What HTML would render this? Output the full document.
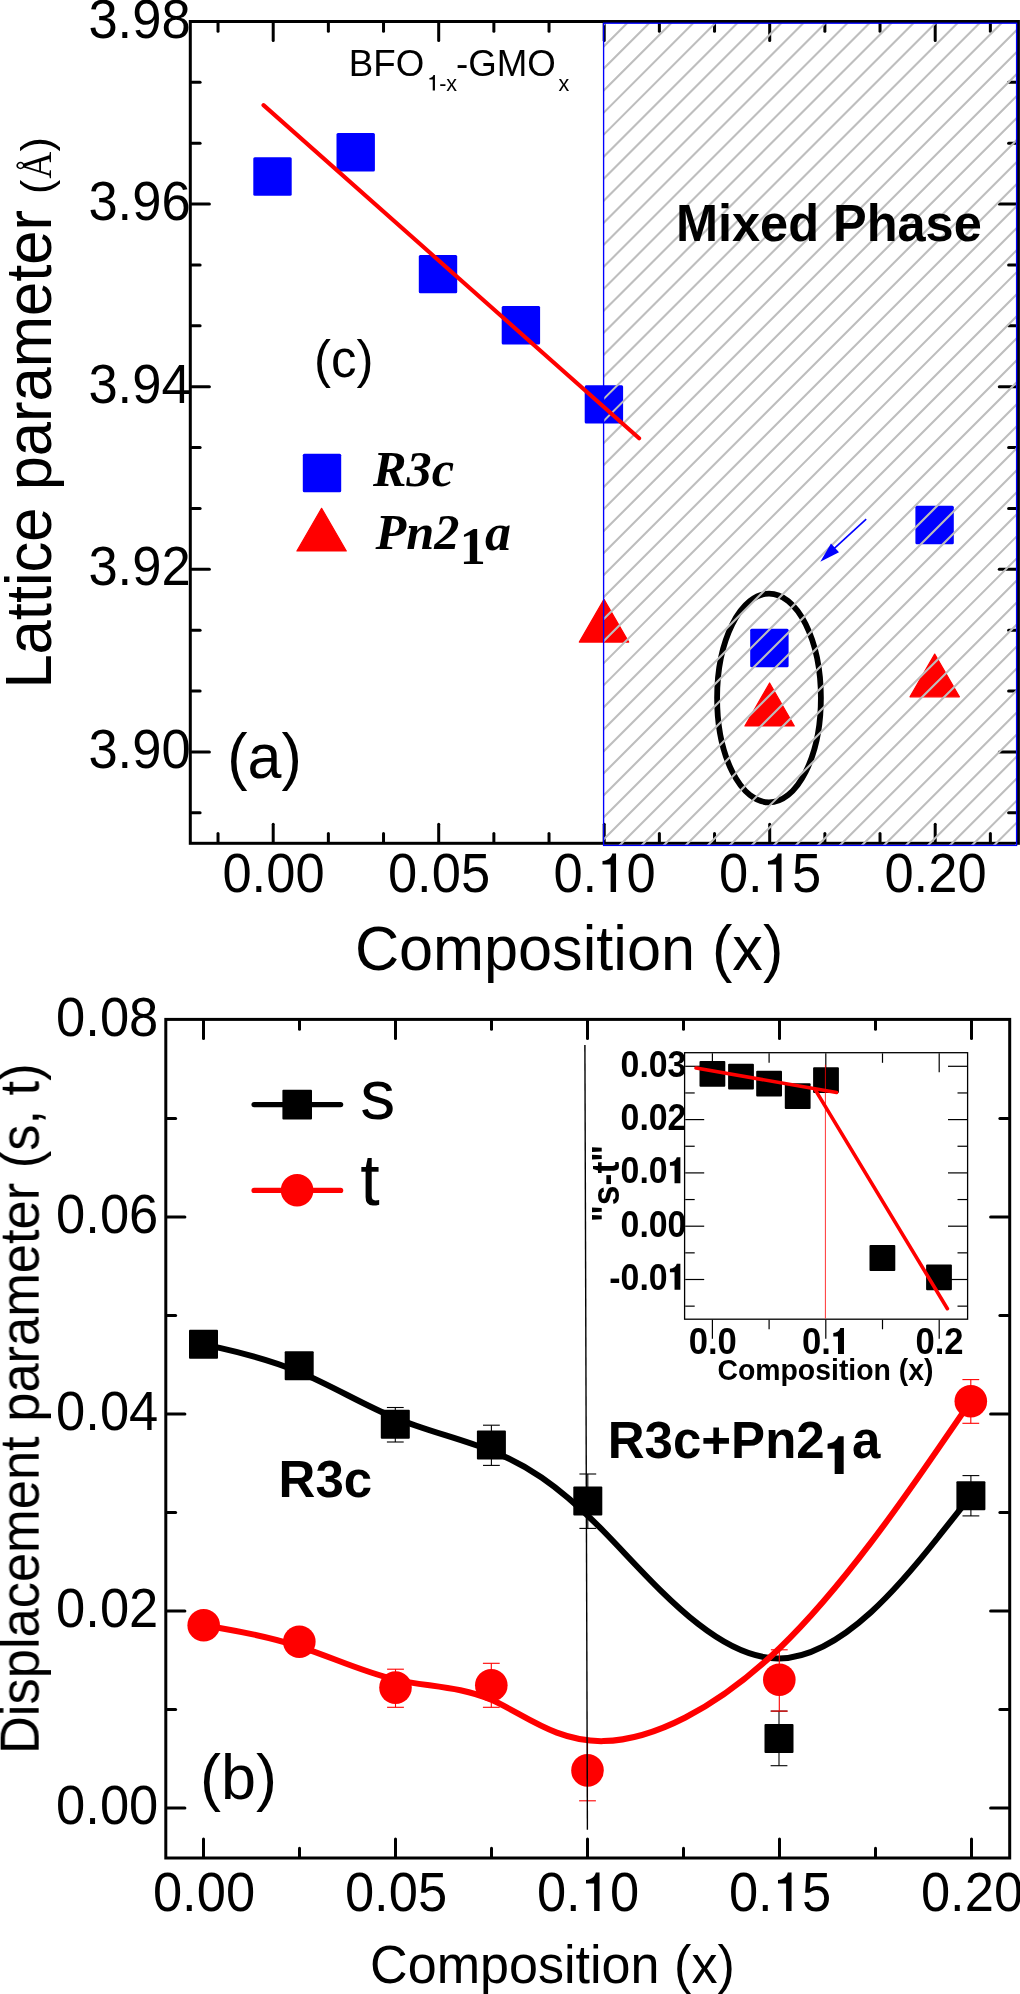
<!DOCTYPE html>
<html><head><meta charset="utf-8"><style>
html,body{margin:0;padding:0;background:#fff;}
svg{display:block;}
</style></head><body>
<svg width="1020" height="1994" viewBox="0 0 1020 1994">
<rect width="1020" height="1994" fill="#fff"/>
<rect x="253.30" y="157.30" width="38.40" height="38.40" rx="1.5" fill="#0000ff"/>
<rect x="336.50" y="133.00" width="38.40" height="38.40" rx="1.5" fill="#0000ff"/>
<rect x="418.80" y="254.90" width="38.40" height="38.40" rx="1.5" fill="#0000ff"/>
<rect x="501.70" y="306.00" width="38.40" height="38.40" rx="1.5" fill="#0000ff"/>
<rect x="584.70" y="385.20" width="38.40" height="38.40" rx="1.5" fill="#0000ff"/>
<rect x="750.20" y="628.80" width="38.40" height="38.40" rx="1.5" fill="#0000ff"/>
<rect x="915.40" y="505.80" width="38.40" height="38.40" rx="1.5" fill="#0000ff"/>
<path d="M604.00,599.40 L628.70,642.10 L579.30,642.10 Z" fill="#ff0000" stroke="#ff0000" stroke-width="1.2" stroke-linejoin="round"/>
<path d="M769.60,683.00 L794.30,726.00 L744.90,726.00 Z" fill="#ff0000" stroke="#ff0000" stroke-width="1.2" stroke-linejoin="round"/>
<path d="M934.70,654.10 L959.40,696.80 L910.00,696.80 Z" fill="#ff0000" stroke="#ff0000" stroke-width="1.2" stroke-linejoin="round"/>
<ellipse cx="769.0" cy="698.0" rx="51.9" ry="104.4" fill="none" stroke="#000" stroke-width="5.8"/>
<rect x="190.30" y="21.50" width="828.10" height="821.80" fill="none" stroke="#000" stroke-width="3.0"/>
<line x1="218.03" y1="841.80" x2="218.03" y2="833.50" stroke="#000" stroke-width="3.0" stroke-linecap="round" />
<line x1="218.03" y1="23.00" x2="218.03" y2="31.30" stroke="#000" stroke-width="3.0" stroke-linecap="round" />
<line x1="273.20" y1="841.80" x2="273.20" y2="824.20" stroke="#000" stroke-width="3.0" stroke-linecap="round" />
<line x1="273.20" y1="23.00" x2="273.20" y2="40.60" stroke="#000" stroke-width="3.0" stroke-linecap="round" />
<line x1="328.37" y1="841.80" x2="328.37" y2="833.50" stroke="#000" stroke-width="3.0" stroke-linecap="round" />
<line x1="328.37" y1="23.00" x2="328.37" y2="31.30" stroke="#000" stroke-width="3.0" stroke-linecap="round" />
<line x1="383.53" y1="841.80" x2="383.53" y2="833.50" stroke="#000" stroke-width="3.0" stroke-linecap="round" />
<line x1="383.53" y1="23.00" x2="383.53" y2="31.30" stroke="#000" stroke-width="3.0" stroke-linecap="round" />
<line x1="438.70" y1="841.80" x2="438.70" y2="824.20" stroke="#000" stroke-width="3.0" stroke-linecap="round" />
<line x1="438.70" y1="23.00" x2="438.70" y2="40.60" stroke="#000" stroke-width="3.0" stroke-linecap="round" />
<line x1="493.87" y1="841.80" x2="493.87" y2="833.50" stroke="#000" stroke-width="3.0" stroke-linecap="round" />
<line x1="493.87" y1="23.00" x2="493.87" y2="31.30" stroke="#000" stroke-width="3.0" stroke-linecap="round" />
<line x1="549.03" y1="841.80" x2="549.03" y2="833.50" stroke="#000" stroke-width="3.0" stroke-linecap="round" />
<line x1="549.03" y1="23.00" x2="549.03" y2="31.30" stroke="#000" stroke-width="3.0" stroke-linecap="round" />
<line x1="604.20" y1="841.80" x2="604.20" y2="824.20" stroke="#000" stroke-width="3.0" stroke-linecap="round" />
<line x1="604.20" y1="23.00" x2="604.20" y2="40.60" stroke="#000" stroke-width="3.0" stroke-linecap="round" />
<line x1="659.37" y1="841.80" x2="659.37" y2="833.50" stroke="#000" stroke-width="3.0" stroke-linecap="round" />
<line x1="659.37" y1="23.00" x2="659.37" y2="31.30" stroke="#000" stroke-width="3.0" stroke-linecap="round" />
<line x1="714.53" y1="841.80" x2="714.53" y2="833.50" stroke="#000" stroke-width="3.0" stroke-linecap="round" />
<line x1="714.53" y1="23.00" x2="714.53" y2="31.30" stroke="#000" stroke-width="3.0" stroke-linecap="round" />
<line x1="769.70" y1="841.80" x2="769.70" y2="824.20" stroke="#000" stroke-width="3.0" stroke-linecap="round" />
<line x1="769.70" y1="23.00" x2="769.70" y2="40.60" stroke="#000" stroke-width="3.0" stroke-linecap="round" />
<line x1="824.87" y1="841.80" x2="824.87" y2="833.50" stroke="#000" stroke-width="3.0" stroke-linecap="round" />
<line x1="824.87" y1="23.00" x2="824.87" y2="31.30" stroke="#000" stroke-width="3.0" stroke-linecap="round" />
<line x1="880.03" y1="841.80" x2="880.03" y2="833.50" stroke="#000" stroke-width="3.0" stroke-linecap="round" />
<line x1="880.03" y1="23.00" x2="880.03" y2="31.30" stroke="#000" stroke-width="3.0" stroke-linecap="round" />
<line x1="935.20" y1="841.80" x2="935.20" y2="824.20" stroke="#000" stroke-width="3.0" stroke-linecap="round" />
<line x1="935.20" y1="23.00" x2="935.20" y2="40.60" stroke="#000" stroke-width="3.0" stroke-linecap="round" />
<line x1="990.37" y1="841.80" x2="990.37" y2="833.50" stroke="#000" stroke-width="3.0" stroke-linecap="round" />
<line x1="990.37" y1="23.00" x2="990.37" y2="31.30" stroke="#000" stroke-width="3.0" stroke-linecap="round" />
<line x1="191.80" y1="812.77" x2="200.10" y2="812.77" stroke="#000" stroke-width="3.0" stroke-linecap="round" />
<line x1="1016.90" y1="812.77" x2="1008.60" y2="812.77" stroke="#000" stroke-width="3.0" stroke-linecap="round" />
<line x1="191.80" y1="751.90" x2="209.40" y2="751.90" stroke="#000" stroke-width="3.0" stroke-linecap="round" />
<line x1="1016.90" y1="751.90" x2="999.30" y2="751.90" stroke="#000" stroke-width="3.0" stroke-linecap="round" />
<line x1="191.80" y1="691.03" x2="200.10" y2="691.03" stroke="#000" stroke-width="3.0" stroke-linecap="round" />
<line x1="1016.90" y1="691.03" x2="1008.60" y2="691.03" stroke="#000" stroke-width="3.0" stroke-linecap="round" />
<line x1="191.80" y1="630.17" x2="200.10" y2="630.17" stroke="#000" stroke-width="3.0" stroke-linecap="round" />
<line x1="1016.90" y1="630.17" x2="1008.60" y2="630.17" stroke="#000" stroke-width="3.0" stroke-linecap="round" />
<line x1="191.80" y1="569.30" x2="209.40" y2="569.30" stroke="#000" stroke-width="3.0" stroke-linecap="round" />
<line x1="1016.90" y1="569.30" x2="999.30" y2="569.30" stroke="#000" stroke-width="3.0" stroke-linecap="round" />
<line x1="191.80" y1="508.43" x2="200.10" y2="508.43" stroke="#000" stroke-width="3.0" stroke-linecap="round" />
<line x1="1016.90" y1="508.43" x2="1008.60" y2="508.43" stroke="#000" stroke-width="3.0" stroke-linecap="round" />
<line x1="191.80" y1="447.57" x2="200.10" y2="447.57" stroke="#000" stroke-width="3.0" stroke-linecap="round" />
<line x1="1016.90" y1="447.57" x2="1008.60" y2="447.57" stroke="#000" stroke-width="3.0" stroke-linecap="round" />
<line x1="191.80" y1="386.70" x2="209.40" y2="386.70" stroke="#000" stroke-width="3.0" stroke-linecap="round" />
<line x1="1016.90" y1="386.70" x2="999.30" y2="386.70" stroke="#000" stroke-width="3.0" stroke-linecap="round" />
<line x1="191.80" y1="325.83" x2="200.10" y2="325.83" stroke="#000" stroke-width="3.0" stroke-linecap="round" />
<line x1="1016.90" y1="325.83" x2="1008.60" y2="325.83" stroke="#000" stroke-width="3.0" stroke-linecap="round" />
<line x1="191.80" y1="264.97" x2="200.10" y2="264.97" stroke="#000" stroke-width="3.0" stroke-linecap="round" />
<line x1="1016.90" y1="264.97" x2="1008.60" y2="264.97" stroke="#000" stroke-width="3.0" stroke-linecap="round" />
<line x1="191.80" y1="204.10" x2="209.40" y2="204.10" stroke="#000" stroke-width="3.0" stroke-linecap="round" />
<line x1="1016.90" y1="204.10" x2="999.30" y2="204.10" stroke="#000" stroke-width="3.0" stroke-linecap="round" />
<line x1="191.80" y1="143.23" x2="200.10" y2="143.23" stroke="#000" stroke-width="3.0" stroke-linecap="round" />
<line x1="1016.90" y1="143.23" x2="1008.60" y2="143.23" stroke="#000" stroke-width="3.0" stroke-linecap="round" />
<line x1="191.80" y1="82.37" x2="200.10" y2="82.37" stroke="#000" stroke-width="3.0" stroke-linecap="round" />
<line x1="1016.90" y1="82.37" x2="1008.60" y2="82.37" stroke="#000" stroke-width="3.0" stroke-linecap="round" />
<defs><clipPath id="hc"><rect x="603.60" y="23.20" width="413.00" height="822.20"/></clipPath></defs>
<g clip-path="url(#hc)"><path d="M584.24,0 L-415.76,1000 M606.26,0 L-393.74,1000 M628.28,0 L-371.72,1000 M650.30,0 L-349.70,1000 M672.32,0 L-327.68,1000 M694.34,0 L-305.66,1000 M716.36,0 L-283.64,1000 M738.38,0 L-261.62,1000 M760.40,0 L-239.60,1000 M782.42,0 L-217.58,1000 M804.44,0 L-195.56,1000 M826.46,0 L-173.54,1000 M848.48,0 L-151.52,1000 M870.50,0 L-129.50,1000 M892.52,0 L-107.48,1000 M914.54,0 L-85.46,1000 M936.56,0 L-63.44,1000 M958.58,0 L-41.42,1000 M980.60,0 L-19.40,1000 M1002.62,0 L2.62,1000 M1024.64,0 L24.64,1000 M1046.66,0 L46.66,1000 M1068.68,0 L68.68,1000 M1090.70,0 L90.70,1000 M1112.72,0 L112.72,1000 M1134.74,0 L134.74,1000 M1156.76,0 L156.76,1000 M1178.78,0 L178.78,1000 M1200.80,0 L200.80,1000 M1222.82,0 L222.82,1000 M1244.84,0 L244.84,1000 M1266.86,0 L266.86,1000 M1288.88,0 L288.88,1000 M1310.90,0 L310.90,1000 M1332.92,0 L332.92,1000 M1354.94,0 L354.94,1000 M1376.96,0 L376.96,1000 M1398.98,0 L398.98,1000 M1421.00,0 L421.00,1000 M1443.02,0 L443.02,1000 M1465.04,0 L465.04,1000 M1487.06,0 L487.06,1000 M1509.08,0 L509.08,1000 M1531.10,0 L531.10,1000 M1553.12,0 L553.12,1000 M1575.14,0 L575.14,1000 M1597.16,0 L597.16,1000 M1619.18,0 L619.18,1000 M1641.20,0 L641.20,1000 M1663.22,0 L663.22,1000 M1685.24,0 L685.24,1000 M1707.26,0 L707.26,1000 M1729.28,0 L729.28,1000 M1751.30,0 L751.30,1000 M1773.32,0 L773.32,1000 M1795.34,0 L795.34,1000 M1817.36,0 L817.36,1000 M1839.38,0 L839.38,1000 M1861.40,0 L861.40,1000 M1883.42,0 L883.42,1000 M1905.44,0 L905.44,1000" stroke="#bebebe" stroke-width="2.1" fill="none"/></g>
<rect x="603.60" y="23.20" width="413.00" height="822.20" fill="none" stroke="#0000ff" stroke-width="1.35"/>
<line x1="263.50" y1="105.10" x2="639.10" y2="438.30" stroke="#ff0000" stroke-width="4.1" stroke-linecap="round" />
<line x1="866.2" y1="519.1" x2="833.5" y2="549.2" stroke="#0000ff" stroke-width="1.6"/>
<path d="M820.3,561.8 L831.0,543.5 L839.0,552.3 Z" fill="#0000ff"/>
<rect x="302.80" y="453.80" width="38.40" height="38.40" rx="1.5" fill="#0000ff"/>
<path d="M321.60,508.30 L346.30,551.00 L296.90,551.00 Z" fill="#ff0000" stroke="#ff0000" stroke-width="1.2" stroke-linejoin="round"/>
<line x1="254.10" y1="1104.60" x2="340.60" y2="1104.60" stroke="#000" stroke-width="5.3" stroke-linecap="round" />
<rect x="282.40" y="1089.80" width="29.60" height="29.60" rx="1" fill="#000"/>
<line x1="254.10" y1="1190.40" x2="340.60" y2="1190.40" stroke="#ff0000" stroke-width="5.3" stroke-linecap="round" />
<circle cx="297.1" cy="1190.2" r="16.3" fill="#ff0000"/>
<line x1="395.30" y1="1407.50" x2="395.30" y2="1442.00" stroke="#000" stroke-width="1.1" stroke-linecap="butt" />
<line x1="386.90" y1="1407.50" x2="403.70" y2="1407.50" stroke="#000" stroke-width="1.1" stroke-linecap="butt" />
<line x1="386.90" y1="1442.00" x2="403.70" y2="1442.00" stroke="#000" stroke-width="1.1" stroke-linecap="butt" />
<line x1="491.40" y1="1425.20" x2="491.40" y2="1465.40" stroke="#000" stroke-width="1.1" stroke-linecap="butt" />
<line x1="483.00" y1="1425.20" x2="499.80" y2="1425.20" stroke="#000" stroke-width="1.1" stroke-linecap="butt" />
<line x1="483.00" y1="1465.40" x2="499.80" y2="1465.40" stroke="#000" stroke-width="1.1" stroke-linecap="butt" />
<line x1="587.80" y1="1474.00" x2="587.80" y2="1528.40" stroke="#000" stroke-width="1.1" stroke-linecap="butt" />
<line x1="579.40" y1="1474.00" x2="596.20" y2="1474.00" stroke="#000" stroke-width="1.1" stroke-linecap="butt" />
<line x1="579.40" y1="1528.40" x2="596.20" y2="1528.40" stroke="#000" stroke-width="1.1" stroke-linecap="butt" />
<line x1="779.00" y1="1711.10" x2="779.00" y2="1765.70" stroke="#000" stroke-width="1.1" stroke-linecap="butt" />
<line x1="770.60" y1="1711.10" x2="787.40" y2="1711.10" stroke="#000" stroke-width="1.1" stroke-linecap="butt" />
<line x1="770.60" y1="1765.70" x2="787.40" y2="1765.70" stroke="#000" stroke-width="1.1" stroke-linecap="butt" />
<line x1="970.90" y1="1475.60" x2="970.90" y2="1515.90" stroke="#000" stroke-width="1.1" stroke-linecap="butt" />
<line x1="962.50" y1="1475.60" x2="979.30" y2="1475.60" stroke="#000" stroke-width="1.1" stroke-linecap="butt" />
<line x1="962.50" y1="1515.90" x2="979.30" y2="1515.90" stroke="#000" stroke-width="1.1" stroke-linecap="butt" />
<path d="M203.50,1344.30 C203.50,1344.30 203.50,1344.30 219.45,1347.88 C235.40,1351.47 267.30,1358.63 299.27,1371.97 C331.23,1385.30 363.27,1404.80 395.30,1418.02 C427.33,1431.23 459.37,1438.17 491.45,1450.95 C523.53,1463.73 555.67,1482.37 603.60,1531.25 C651.53,1580.13 715.27,1659.27 779.12,1658.40 C842.97,1657.53 906.93,1576.67 938.92,1536.23 C970.90,1495.80 970.90,1495.80 970.90,1495.80" fill="none" stroke="#000" stroke-width="6.0" stroke-linejoin="round"/>
<rect x="189.00" y="1329.80" width="29.00" height="29.00" rx="1" fill="#000"/>
<rect x="284.70" y="1351.30" width="29.00" height="29.00" rx="1" fill="#000"/>
<rect x="380.80" y="1409.80" width="29.00" height="29.00" rx="1" fill="#000"/>
<rect x="476.90" y="1430.60" width="29.00" height="29.00" rx="1" fill="#000"/>
<rect x="573.30" y="1486.50" width="29.00" height="29.00" rx="1" fill="#000"/>
<rect x="764.50" y="1723.90" width="29.00" height="29.00" rx="1" fill="#000"/>
<rect x="956.40" y="1481.30" width="29.00" height="29.00" rx="1" fill="#000"/>
<line x1="395.50" y1="1669.20" x2="395.50" y2="1707.30" stroke="#ff0000" stroke-width="1.1" stroke-linecap="butt" />
<line x1="387.10" y1="1669.20" x2="403.90" y2="1669.20" stroke="#ff0000" stroke-width="1.1" stroke-linecap="butt" />
<line x1="387.10" y1="1707.30" x2="403.90" y2="1707.30" stroke="#ff0000" stroke-width="1.1" stroke-linecap="butt" />
<line x1="491.30" y1="1663.30" x2="491.30" y2="1707.30" stroke="#ff0000" stroke-width="1.1" stroke-linecap="butt" />
<line x1="482.90" y1="1663.30" x2="499.70" y2="1663.30" stroke="#ff0000" stroke-width="1.1" stroke-linecap="butt" />
<line x1="482.90" y1="1707.30" x2="499.70" y2="1707.30" stroke="#ff0000" stroke-width="1.1" stroke-linecap="butt" />
<line x1="587.50" y1="1740.00" x2="587.50" y2="1800.80" stroke="#ff0000" stroke-width="1.1" stroke-linecap="butt" />
<line x1="579.10" y1="1740.00" x2="595.90" y2="1740.00" stroke="#ff0000" stroke-width="1.1" stroke-linecap="butt" />
<line x1="579.10" y1="1800.80" x2="595.90" y2="1800.80" stroke="#ff0000" stroke-width="1.1" stroke-linecap="butt" />
<line x1="779.30" y1="1649.80" x2="779.30" y2="1711.10" stroke="#ff0000" stroke-width="1.1" stroke-linecap="butt" />
<line x1="770.90" y1="1649.80" x2="787.70" y2="1649.80" stroke="#ff0000" stroke-width="1.1" stroke-linecap="butt" />
<line x1="770.90" y1="1711.10" x2="787.70" y2="1711.10" stroke="#ff0000" stroke-width="1.1" stroke-linecap="butt" />
<line x1="970.80" y1="1379.60" x2="970.80" y2="1423.30" stroke="#ff0000" stroke-width="1.1" stroke-linecap="butt" />
<line x1="962.40" y1="1379.60" x2="979.20" y2="1379.60" stroke="#ff0000" stroke-width="1.1" stroke-linecap="butt" />
<line x1="962.40" y1="1423.30" x2="979.20" y2="1423.30" stroke="#ff0000" stroke-width="1.1" stroke-linecap="butt" />
<path d="M203.70,1625.20 C203.70,1625.20 203.70,1625.20 219.63,1627.95 C235.57,1630.70 267.43,1636.20 299.40,1646.60 C331.37,1657.00 363.43,1672.30 395.43,1679.57 C427.43,1686.83 459.37,1686.07 491.37,1699.87 C523.37,1713.67 555.43,1742.03 603.43,1741.12 C651.43,1740.20 715.37,1710.00 779.25,1648.47 C843.13,1586.93 906.97,1494.07 938.88,1447.63 C970.80,1401.20 970.80,1401.20 970.80,1401.20" fill="none" stroke="#ff0000" stroke-width="6.0" stroke-linejoin="round"/>
<circle cx="203.7" cy="1625.2" r="16.3" fill="#ff0000"/>
<circle cx="299.3" cy="1641.7" r="16.3" fill="#ff0000"/>
<circle cx="395.5" cy="1687.6" r="16.3" fill="#ff0000"/>
<circle cx="491.3" cy="1685.3" r="16.3" fill="#ff0000"/>
<circle cx="587.5" cy="1770.4" r="16.3" fill="#ff0000"/>
<circle cx="779.3" cy="1679.8" r="16.3" fill="#ff0000"/>
<circle cx="970.8" cy="1401.2" r="16.3" fill="#ff0000"/>
<line x1="584.90" y1="1045.00" x2="587.40" y2="1829.70" stroke="#000" stroke-width="1.4" stroke-linecap="butt" />
<rect x="165.80" y="1019.40" width="843.90" height="838.60" fill="none" stroke="#000" stroke-width="3.0"/>
<line x1="203.50" y1="1856.50" x2="203.50" y2="1838.90" stroke="#000" stroke-width="3.0" stroke-linecap="round" />
<line x1="203.50" y1="1020.90" x2="203.50" y2="1038.50" stroke="#000" stroke-width="3.0" stroke-linecap="round" />
<line x1="299.50" y1="1856.50" x2="299.50" y2="1848.20" stroke="#000" stroke-width="3.0" stroke-linecap="round" />
<line x1="299.50" y1="1020.90" x2="299.50" y2="1029.20" stroke="#000" stroke-width="3.0" stroke-linecap="round" />
<line x1="395.50" y1="1856.50" x2="395.50" y2="1838.90" stroke="#000" stroke-width="3.0" stroke-linecap="round" />
<line x1="395.50" y1="1020.90" x2="395.50" y2="1038.50" stroke="#000" stroke-width="3.0" stroke-linecap="round" />
<line x1="491.50" y1="1856.50" x2="491.50" y2="1848.20" stroke="#000" stroke-width="3.0" stroke-linecap="round" />
<line x1="491.50" y1="1020.90" x2="491.50" y2="1029.20" stroke="#000" stroke-width="3.0" stroke-linecap="round" />
<line x1="587.50" y1="1856.50" x2="587.50" y2="1838.90" stroke="#000" stroke-width="3.0" stroke-linecap="round" />
<line x1="587.50" y1="1020.90" x2="587.50" y2="1038.50" stroke="#000" stroke-width="3.0" stroke-linecap="round" />
<line x1="683.50" y1="1856.50" x2="683.50" y2="1848.20" stroke="#000" stroke-width="3.0" stroke-linecap="round" />
<line x1="683.50" y1="1020.90" x2="683.50" y2="1029.20" stroke="#000" stroke-width="3.0" stroke-linecap="round" />
<line x1="779.50" y1="1856.50" x2="779.50" y2="1838.90" stroke="#000" stroke-width="3.0" stroke-linecap="round" />
<line x1="779.50" y1="1020.90" x2="779.50" y2="1038.50" stroke="#000" stroke-width="3.0" stroke-linecap="round" />
<line x1="875.50" y1="1856.50" x2="875.50" y2="1848.20" stroke="#000" stroke-width="3.0" stroke-linecap="round" />
<line x1="875.50" y1="1020.90" x2="875.50" y2="1029.20" stroke="#000" stroke-width="3.0" stroke-linecap="round" />
<line x1="971.50" y1="1856.50" x2="971.50" y2="1838.90" stroke="#000" stroke-width="3.0" stroke-linecap="round" />
<line x1="971.50" y1="1020.90" x2="971.50" y2="1038.50" stroke="#000" stroke-width="3.0" stroke-linecap="round" />
<line x1="167.30" y1="1808.00" x2="184.90" y2="1808.00" stroke="#000" stroke-width="3.0" stroke-linecap="round" />
<line x1="1008.20" y1="1808.00" x2="990.60" y2="1808.00" stroke="#000" stroke-width="3.0" stroke-linecap="round" />
<line x1="167.30" y1="1709.50" x2="175.60" y2="1709.50" stroke="#000" stroke-width="3.0" stroke-linecap="round" />
<line x1="1008.20" y1="1709.50" x2="999.90" y2="1709.50" stroke="#000" stroke-width="3.0" stroke-linecap="round" />
<line x1="167.30" y1="1611.00" x2="184.90" y2="1611.00" stroke="#000" stroke-width="3.0" stroke-linecap="round" />
<line x1="1008.20" y1="1611.00" x2="990.60" y2="1611.00" stroke="#000" stroke-width="3.0" stroke-linecap="round" />
<line x1="167.30" y1="1512.50" x2="175.60" y2="1512.50" stroke="#000" stroke-width="3.0" stroke-linecap="round" />
<line x1="1008.20" y1="1512.50" x2="999.90" y2="1512.50" stroke="#000" stroke-width="3.0" stroke-linecap="round" />
<line x1="167.30" y1="1414.00" x2="184.90" y2="1414.00" stroke="#000" stroke-width="3.0" stroke-linecap="round" />
<line x1="1008.20" y1="1414.00" x2="990.60" y2="1414.00" stroke="#000" stroke-width="3.0" stroke-linecap="round" />
<line x1="167.30" y1="1315.50" x2="175.60" y2="1315.50" stroke="#000" stroke-width="3.0" stroke-linecap="round" />
<line x1="1008.20" y1="1315.50" x2="999.90" y2="1315.50" stroke="#000" stroke-width="3.0" stroke-linecap="round" />
<line x1="167.30" y1="1217.00" x2="184.90" y2="1217.00" stroke="#000" stroke-width="3.0" stroke-linecap="round" />
<line x1="1008.20" y1="1217.00" x2="990.60" y2="1217.00" stroke="#000" stroke-width="3.0" stroke-linecap="round" />
<line x1="167.30" y1="1118.50" x2="175.60" y2="1118.50" stroke="#000" stroke-width="3.0" stroke-linecap="round" />
<line x1="1008.20" y1="1118.50" x2="999.90" y2="1118.50" stroke="#000" stroke-width="3.0" stroke-linecap="round" />
<rect x="684.6" y="1052.7" width="283.00" height="266.50" fill="#fff" stroke="#000" stroke-width="1.3"/>
<line x1="712.40" y1="1319.80" x2="712.40" y2="1338.80" stroke="#000" stroke-width="1.2" stroke-linecap="butt" />
<line x1="712.40" y1="1053.30" x2="712.40" y2="1072.30" stroke="#000" stroke-width="1.2" stroke-linecap="butt" />
<line x1="769.10" y1="1319.80" x2="769.10" y2="1329.30" stroke="#000" stroke-width="1.2" stroke-linecap="butt" />
<line x1="769.10" y1="1053.30" x2="769.10" y2="1062.80" stroke="#000" stroke-width="1.2" stroke-linecap="butt" />
<line x1="825.80" y1="1319.80" x2="825.80" y2="1338.80" stroke="#000" stroke-width="1.2" stroke-linecap="butt" />
<line x1="825.80" y1="1053.30" x2="825.80" y2="1072.30" stroke="#000" stroke-width="1.2" stroke-linecap="butt" />
<line x1="882.50" y1="1319.80" x2="882.50" y2="1329.30" stroke="#000" stroke-width="1.2" stroke-linecap="butt" />
<line x1="882.50" y1="1053.30" x2="882.50" y2="1062.80" stroke="#000" stroke-width="1.2" stroke-linecap="butt" />
<line x1="939.20" y1="1319.80" x2="939.20" y2="1338.80" stroke="#000" stroke-width="1.2" stroke-linecap="butt" />
<line x1="939.20" y1="1053.30" x2="939.20" y2="1072.30" stroke="#000" stroke-width="1.2" stroke-linecap="butt" />
<line x1="685.20" y1="1306.15" x2="694.70" y2="1306.15" stroke="#000" stroke-width="1.2" stroke-linecap="butt" />
<line x1="967.00" y1="1306.15" x2="957.50" y2="1306.15" stroke="#000" stroke-width="1.2" stroke-linecap="butt" />
<line x1="685.20" y1="1279.50" x2="704.20" y2="1279.50" stroke="#000" stroke-width="1.2" stroke-linecap="butt" />
<line x1="967.00" y1="1279.50" x2="948.00" y2="1279.50" stroke="#000" stroke-width="1.2" stroke-linecap="butt" />
<line x1="685.20" y1="1252.85" x2="694.70" y2="1252.85" stroke="#000" stroke-width="1.2" stroke-linecap="butt" />
<line x1="967.00" y1="1252.85" x2="957.50" y2="1252.85" stroke="#000" stroke-width="1.2" stroke-linecap="butt" />
<line x1="685.20" y1="1226.20" x2="704.20" y2="1226.20" stroke="#000" stroke-width="1.2" stroke-linecap="butt" />
<line x1="967.00" y1="1226.20" x2="948.00" y2="1226.20" stroke="#000" stroke-width="1.2" stroke-linecap="butt" />
<line x1="685.20" y1="1199.55" x2="694.70" y2="1199.55" stroke="#000" stroke-width="1.2" stroke-linecap="butt" />
<line x1="967.00" y1="1199.55" x2="957.50" y2="1199.55" stroke="#000" stroke-width="1.2" stroke-linecap="butt" />
<line x1="685.20" y1="1172.90" x2="704.20" y2="1172.90" stroke="#000" stroke-width="1.2" stroke-linecap="butt" />
<line x1="967.00" y1="1172.90" x2="948.00" y2="1172.90" stroke="#000" stroke-width="1.2" stroke-linecap="butt" />
<line x1="685.20" y1="1146.25" x2="694.70" y2="1146.25" stroke="#000" stroke-width="1.2" stroke-linecap="butt" />
<line x1="967.00" y1="1146.25" x2="957.50" y2="1146.25" stroke="#000" stroke-width="1.2" stroke-linecap="butt" />
<line x1="685.20" y1="1119.60" x2="704.20" y2="1119.60" stroke="#000" stroke-width="1.2" stroke-linecap="butt" />
<line x1="967.00" y1="1119.60" x2="948.00" y2="1119.60" stroke="#000" stroke-width="1.2" stroke-linecap="butt" />
<line x1="685.20" y1="1092.95" x2="694.70" y2="1092.95" stroke="#000" stroke-width="1.2" stroke-linecap="butt" />
<line x1="967.00" y1="1092.95" x2="957.50" y2="1092.95" stroke="#000" stroke-width="1.2" stroke-linecap="butt" />
<line x1="685.20" y1="1066.30" x2="704.20" y2="1066.30" stroke="#000" stroke-width="1.2" stroke-linecap="butt" />
<line x1="967.00" y1="1066.30" x2="948.00" y2="1066.30" stroke="#000" stroke-width="1.2" stroke-linecap="butt" />
<rect x="699.50" y="1060.90" width="25.80" height="25.80" rx="1" fill="#000"/>
<rect x="728.10" y="1063.80" width="25.80" height="25.80" rx="1" fill="#000"/>
<rect x="756.20" y="1070.80" width="25.80" height="25.80" rx="1" fill="#000"/>
<rect x="784.80" y="1083.30" width="25.80" height="25.80" rx="1" fill="#000"/>
<rect x="813.10" y="1067.30" width="25.80" height="25.80" rx="1" fill="#000"/>
<rect x="869.50" y="1245.10" width="25.80" height="25.80" rx="1" fill="#000"/>
<rect x="926.10" y="1264.40" width="25.80" height="25.80" rx="1" fill="#000"/>
<line x1="825.40" y1="1064.70" x2="825.40" y2="1318.50" stroke="#ff0000" stroke-width="0.8" stroke-linecap="butt" />
<line x1="696.00" y1="1068.00" x2="836.60" y2="1092.40" stroke="#ff0000" stroke-width="3.6" stroke-linecap="round" />
<line x1="815.00" y1="1089.40" x2="947.40" y2="1308.70" stroke="#ff0000" stroke-width="3.6" stroke-linecap="round" />
<g style="filter:grayscale(1)">
<text transform="translate(88.41,37.50) scale(1.0001,1.04)" x="0" y="0" font-family='"Liberation Sans", sans-serif' font-size="52.5" font-weight="normal" font-style="normal" text-anchor="start" fill="#000" >3.98</text>
<text transform="translate(88.41,220.10) scale(1.0001,1.04)" x="0" y="0" font-family='"Liberation Sans", sans-serif' font-size="52.5" font-weight="normal" font-style="normal" text-anchor="start" fill="#000" >3.96</text>
<text transform="translate(88.41,402.70) scale(1.0001,1.04)" x="0" y="0" font-family='"Liberation Sans", sans-serif' font-size="52.5" font-weight="normal" font-style="normal" text-anchor="start" fill="#000" >3.94</text>
<text transform="translate(88.41,585.30) scale(1.0001,1.04)" x="0" y="0" font-family='"Liberation Sans", sans-serif' font-size="52.5" font-weight="normal" font-style="normal" text-anchor="start" fill="#000" >3.92</text>
<text transform="translate(88.41,767.90) scale(1.0001,1.04)" x="0" y="0" font-family='"Liberation Sans", sans-serif' font-size="52.5" font-weight="normal" font-style="normal" text-anchor="start" fill="#000" >3.90</text>
<text transform="translate(222.40,892.00) scale(1.0001,1.045)" x="0" y="0" font-family='"Liberation Sans", sans-serif' font-size="52.5" font-weight="normal" font-style="normal" text-anchor="start" fill="#000" >0.00</text>
<text transform="translate(387.90,892.00) scale(1.0001,1.045)" x="0" y="0" font-family='"Liberation Sans", sans-serif' font-size="52.5" font-weight="normal" font-style="normal" text-anchor="start" fill="#000" >0.05</text>
<text transform="translate(553.40,892.00) scale(1.0001,1.045)" x="0" y="0" font-family='"Liberation Sans", sans-serif' font-size="52.5" font-weight="normal" font-style="normal" text-anchor="start" fill="#000" >0.</text>
<path transform="translate(597.19,892.00) scale(52.505,-54.862)" d="M0.359,0 L0.359,0.703 L0.288,0.703 C0.268,0.622 0.205,0.574 0.101,0.566 L0.101,0.503 L0.256,0.503 L0.256,0 Z" fill="#000"/>
<text transform="translate(626.39,892.00) scale(1.0001,1.045)" x="0" y="0" font-family='"Liberation Sans", sans-serif' font-size="52.5" font-weight="normal" font-style="normal" text-anchor="start" fill="#000" >0</text>
<text transform="translate(718.90,892.00) scale(1.0001,1.045)" x="0" y="0" font-family='"Liberation Sans", sans-serif' font-size="52.5" font-weight="normal" font-style="normal" text-anchor="start" fill="#000" >0.</text>
<path transform="translate(762.69,892.00) scale(52.505,-54.862)" d="M0.359,0 L0.359,0.703 L0.288,0.703 C0.268,0.622 0.205,0.574 0.101,0.566 L0.101,0.503 L0.256,0.503 L0.256,0 Z" fill="#000"/>
<text transform="translate(791.89,892.00) scale(1.0001,1.045)" x="0" y="0" font-family='"Liberation Sans", sans-serif' font-size="52.5" font-weight="normal" font-style="normal" text-anchor="start" fill="#000" >5</text>
<text transform="translate(884.40,892.00) scale(1.0001,1.045)" x="0" y="0" font-family='"Liberation Sans", sans-serif' font-size="52.5" font-weight="normal" font-style="normal" text-anchor="start" fill="#000" >0.20</text>
<text transform="translate(354.89,970.20) scale(1.0,1.02)" x="0" y="0" font-family='"Liberation Sans", sans-serif' font-size="61.2" font-weight="normal" font-style="normal" text-anchor="start" fill="#000" >Composition (x)</text>
<g transform="translate(50.7,688.6) rotate(-90) scale(1,1.06)"><text x="0" y="0" font-family='"Liberation Sans", sans-serif' font-size="61.5">Lattice parameter</text></g>
<g transform="translate(50.5,194.0) rotate(-90)"><text x="0" y="0" font-family='"Liberation Sans", sans-serif' font-size="43">(</text><text x="15.5" y="0" transform="scale(1,1.12)" font-family='"Liberation Serif", serif' font-size="37">Å</text><text x="42.5" y="0" font-family='"Liberation Sans", sans-serif' font-size="43">)</text></g>
<text transform="translate(348.79,75.80) scale(1.0,1.03)" x="0" y="0" font-family='"Liberation Sans", sans-serif' font-size="36.7" font-weight="normal" font-style="normal" text-anchor="start" fill="#000" >BFO</text>
<path transform="translate(427.23,90.60) scale(21.502,-22.145)" d="M0.359,0 L0.359,0.703 L0.288,0.703 C0.268,0.622 0.205,0.574 0.101,0.566 L0.101,0.503 L0.256,0.503 L0.256,0 Z" fill="#000"/>
<text transform="translate(439.19,90.60) scale(1.0001,1.03)" x="0" y="0" font-family='"Liberation Sans", sans-serif' font-size="21.5" font-weight="normal" font-style="normal" text-anchor="start" fill="#000" >-x</text>
<text transform="translate(455.97,75.80) scale(1.0,1.03)" x="0" y="0" font-family='"Liberation Sans", sans-serif' font-size="36.7" font-weight="normal" font-style="normal" text-anchor="start" fill="#000" >-GMO</text>
<text transform="translate(558.56,90.60) scale(1.0,1.03)" x="0" y="0" font-family='"Liberation Sans", sans-serif' font-size="21.5" font-weight="normal" font-style="normal" text-anchor="start" fill="#000" >x</text>
<text transform="translate(675.92,241.20) scale(1.0,1.04)" x="0" y="0" font-family='"Liberation Sans", sans-serif' font-size="50.5" font-weight="bold" font-style="normal" text-anchor="start" fill="#000" >Mixed Phase</text>
<text x="314.04" y="377.00" font-family='"Liberation Sans", sans-serif' font-size="51" font-weight="normal" font-style="normal" text-anchor="start" fill="#000" >(c)</text>
<text transform="translate(227.22,778.40) scale(1.0,1.02)" x="0" y="0" font-family='"Liberation Sans", sans-serif' font-size="61" font-weight="normal" font-style="normal" text-anchor="start" fill="#000" >(a)</text>
<text x="373.00" y="485.80" font-family='"Liberation Serif", serif' font-size="50.3" font-weight="bold" font-style="italic" text-anchor="start" fill="#000" >R3c</text>
<text x="375.60" y="549.00" font-family='"Liberation Serif", serif' font-size="50.3" font-weight="bold" font-style="italic" text-anchor="start" fill="#000" >Pn2</text>
<text x="459.74" y="563.90" font-family='"Liberation Serif", serif' font-size="52" font-weight="bold" font-style="normal" text-anchor="start" fill="#000" >1</text>
<text x="484.88" y="550.00" font-family='"Liberation Serif", serif' font-size="52" font-weight="bold" font-style="italic" text-anchor="start" fill="#000" >a</text>
<text x="360.35" y="1118.60" font-family='"Liberation Sans", sans-serif' font-size="70" font-weight="normal" font-style="normal" text-anchor="start" fill="#000" >s</text>
<text transform="translate(360.35,1205.00) scale(1.0,1.04)" x="0" y="0" font-family='"Liberation Sans", sans-serif' font-size="70" font-weight="normal" font-style="normal" text-anchor="start" fill="#000" >t</text>
<text transform="translate(56.11,1036.40) scale(1.0001,1.04)" x="0" y="0" font-family='"Liberation Sans", sans-serif' font-size="52.5" font-weight="normal" font-style="normal" text-anchor="start" fill="#000" >0.08</text>
<text transform="translate(56.11,1233.40) scale(1.0001,1.04)" x="0" y="0" font-family='"Liberation Sans", sans-serif' font-size="52.5" font-weight="normal" font-style="normal" text-anchor="start" fill="#000" >0.06</text>
<text transform="translate(56.11,1430.40) scale(1.0001,1.04)" x="0" y="0" font-family='"Liberation Sans", sans-serif' font-size="52.5" font-weight="normal" font-style="normal" text-anchor="start" fill="#000" >0.04</text>
<text transform="translate(56.11,1627.40) scale(1.0001,1.04)" x="0" y="0" font-family='"Liberation Sans", sans-serif' font-size="52.5" font-weight="normal" font-style="normal" text-anchor="start" fill="#000" >0.02</text>
<text transform="translate(56.11,1824.40) scale(1.0001,1.04)" x="0" y="0" font-family='"Liberation Sans", sans-serif' font-size="52.5" font-weight="normal" font-style="normal" text-anchor="start" fill="#000" >0.00</text>
<text transform="translate(152.90,1911.00) scale(1.0001,1.045)" x="0" y="0" font-family='"Liberation Sans", sans-serif' font-size="52.5" font-weight="normal" font-style="normal" text-anchor="start" fill="#000" >0.00</text>
<text transform="translate(344.90,1911.00) scale(1.0001,1.045)" x="0" y="0" font-family='"Liberation Sans", sans-serif' font-size="52.5" font-weight="normal" font-style="normal" text-anchor="start" fill="#000" >0.05</text>
<text transform="translate(536.90,1911.00) scale(1.0001,1.045)" x="0" y="0" font-family='"Liberation Sans", sans-serif' font-size="52.5" font-weight="normal" font-style="normal" text-anchor="start" fill="#000" >0.</text>
<path transform="translate(580.69,1911.00) scale(52.505,-54.862)" d="M0.359,0 L0.359,0.703 L0.288,0.703 C0.268,0.622 0.205,0.574 0.101,0.566 L0.101,0.503 L0.256,0.503 L0.256,0 Z" fill="#000"/>
<text transform="translate(609.89,1911.00) scale(1.0001,1.045)" x="0" y="0" font-family='"Liberation Sans", sans-serif' font-size="52.5" font-weight="normal" font-style="normal" text-anchor="start" fill="#000" >0</text>
<text transform="translate(728.90,1911.00) scale(1.0001,1.045)" x="0" y="0" font-family='"Liberation Sans", sans-serif' font-size="52.5" font-weight="normal" font-style="normal" text-anchor="start" fill="#000" >0.</text>
<path transform="translate(772.69,1911.00) scale(52.505,-54.862)" d="M0.359,0 L0.359,0.703 L0.288,0.703 C0.268,0.622 0.205,0.574 0.101,0.566 L0.101,0.503 L0.256,0.503 L0.256,0 Z" fill="#000"/>
<text transform="translate(801.89,1911.00) scale(1.0001,1.045)" x="0" y="0" font-family='"Liberation Sans", sans-serif' font-size="52.5" font-weight="normal" font-style="normal" text-anchor="start" fill="#000" >5</text>
<text transform="translate(920.90,1911.00) scale(1.0001,1.045)" x="0" y="0" font-family='"Liberation Sans", sans-serif' font-size="52.5" font-weight="normal" font-style="normal" text-anchor="start" fill="#000" >0.20</text>
<text transform="translate(370.05,1983.20) scale(1.0,1.03)" x="0" y="0" font-family='"Liberation Sans", sans-serif' font-size="52.1" font-weight="normal" font-style="normal" text-anchor="start" fill="#000" >Composition (x)</text>
<g transform="translate(38.6,1754.0) rotate(-90) scale(1,1.06)"><text x="0" y="0" font-family='"Liberation Sans", sans-serif' font-size="52.45">Displacement parameter (s, t)</text></g>
<text transform="translate(278.59,1497.00) scale(1.0,1.03)" x="0" y="0" font-family='"Liberation Sans", sans-serif' font-size="51" font-weight="bold" font-style="normal" text-anchor="start" fill="#000" >R3c</text>
<text x="607.79" y="1457.80" font-family='"Liberation Sans", sans-serif' font-size="51" font-weight="bold" font-style="normal" text-anchor="start" fill="#000" >R3c+Pn2</text>
<path transform="translate(824.01,1474.00) scale(52.005,-53.040)" d="M0.378,0 L0.378,0.710 L0.272,0.710 C0.250,0.630 0.178,0.583 0.069,0.571 L0.069,0.478 L0.205,0.478 L0.205,0 Z" fill="#000"/>
<text x="852.02" y="1458.00" font-family='"Liberation Sans", sans-serif' font-size="51" font-weight="bold" font-style="normal" text-anchor="start" fill="#000" >a</text>
<text x="200.09" y="1799.10" font-family='"Liberation Sans", sans-serif' font-size="63" font-weight="normal" font-style="normal" text-anchor="start" fill="#000" >(b)</text>
<text transform="translate(620.62,1076.60) scale(1.0,1.086)" x="0" y="0" font-family='"Liberation Sans", sans-serif' font-size="33.8" font-weight="bold" font-style="normal" text-anchor="start" fill="#000" >0.03</text>
<text transform="translate(620.62,1129.90) scale(1.0,1.086)" x="0" y="0" font-family='"Liberation Sans", sans-serif' font-size="33.8" font-weight="bold" font-style="normal" text-anchor="start" fill="#000" >0.02</text>
<text transform="translate(620.62,1183.20) scale(1.0,1.086)" x="0" y="0" font-family='"Liberation Sans", sans-serif' font-size="33.8" font-weight="bold" font-style="normal" text-anchor="start" fill="#000" >0.0</text>
<path transform="translate(667.60,1183.20) scale(33.800,-36.707)" d="M0.378,0 L0.378,0.710 L0.272,0.710 C0.250,0.630 0.178,0.583 0.069,0.571 L0.069,0.478 L0.205,0.478 L0.205,0 Z" fill="#000"/>
<text transform="translate(620.62,1236.50) scale(1.0,1.086)" x="0" y="0" font-family='"Liberation Sans", sans-serif' font-size="33.8" font-weight="bold" font-style="normal" text-anchor="start" fill="#000" >0.00</text>
<text transform="translate(609.36,1289.80) scale(1.0,1.086)" x="0" y="0" font-family='"Liberation Sans", sans-serif' font-size="33.8" font-weight="bold" font-style="normal" text-anchor="start" fill="#000" >-0.0</text>
<path transform="translate(667.60,1289.80) scale(33.800,-36.707)" d="M0.378,0 L0.378,0.710 L0.272,0.710 C0.250,0.630 0.178,0.583 0.069,0.571 L0.069,0.478 L0.205,0.478 L0.205,0 Z" fill="#000"/>
<text transform="translate(688.65,1354.00) scale(1.0,1.06)" x="0" y="0" font-family='"Liberation Sans", sans-serif' font-size="34.6" font-weight="bold" font-style="normal" text-anchor="start" fill="#000" >0.0</text>
<text transform="translate(802.05,1354.00) scale(1.0,1.06)" x="0" y="0" font-family='"Liberation Sans", sans-serif' font-size="34.6" font-weight="bold" font-style="normal" text-anchor="start" fill="#000" >0.</text>
<path transform="translate(830.91,1354.00) scale(34.600,-36.676)" d="M0.378,0 L0.378,0.710 L0.272,0.710 C0.250,0.630 0.178,0.583 0.069,0.571 L0.069,0.478 L0.205,0.478 L0.205,0 Z" fill="#000"/>
<text transform="translate(915.45,1354.00) scale(1.0,1.06)" x="0" y="0" font-family='"Liberation Sans", sans-serif' font-size="34.6" font-weight="bold" font-style="normal" text-anchor="start" fill="#000" >0.2</text>
<text transform="translate(717.44,1379.70) scale(1.0,1.05)" x="0" y="0" font-family='"Liberation Sans", sans-serif' font-size="28.4" font-weight="bold" font-style="normal" text-anchor="start" fill="#000" >Composition (x)</text>
<g transform="translate(619.0,1222.0) rotate(-90) scale(1,1.08)"><text x="0" y="0" font-family='"Liberation Sans", sans-serif' font-size="35.5" font-weight="bold">"s-t"</text></g>
</g>
</svg>
</body></html>
